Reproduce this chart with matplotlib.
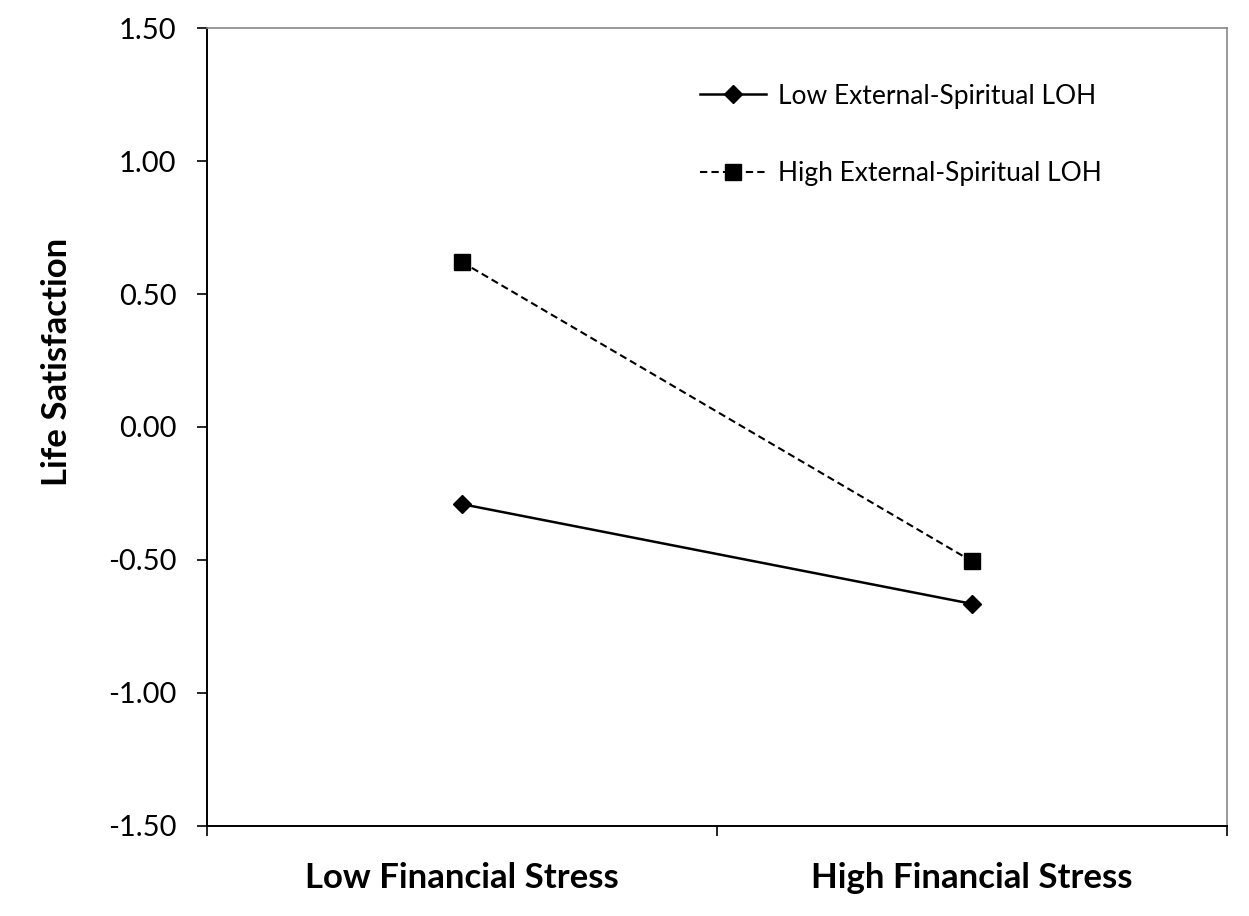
import matplotlib
matplotlib.use("Agg")
import matplotlib.pyplot as plt

plt.rcParams['font.family'] = ['Lato', 'DejaVu Sans']

categories = ["Low Financial Stress", "High Financial Stress"]
low_es = [-0.29, -0.665]
high_es = [0.62, -0.505]
yticks = [-1.5, -1.0, -0.5, 0.0, 0.5, 1.0, 1.5]

fig = plt.figure(figsize=(12.49, 9.16), dpi=100)
ax = fig.add_axes([0.1657, 0.0983, 0.8167, 0.8711])

xpos = [0.5, 1.5]
ax.plot(xpos, low_es, color="black", lw=1.8, marker="D", ms=9,
        label="Low External-Spiritual LOH")
ax.plot(xpos, high_es, color="black", lw=1.5, ls=(0, (3.5, 2)), marker="s", ms=11,
        label="High External-Spiritual LOH")

ax.set_xlim(0, 2)
ax.set_ylim(-1.5, 1.5)
ax.set_yticks(yticks)
ax.set_yticklabels(["%.2f" % v for v in yticks], fontsize=21)
ax.set_xticks([0, 1, 2])
ax.set_xticklabels([])
ax.set_xticks(xpos, minor=True)
ax.set_xticklabels(categories, minor=True, fontsize=25, fontweight="bold")
ax.tick_params(axis="x", which="minor", length=0, pad=26)
ax.tick_params(axis="x", which="major", length=7, width=1.2, direction="out")
ax.tick_params(axis="y", length=7, width=1.2, pad=15)
ax.set_ylabel("Life Satisfaction", fontsize=25, fontweight="bold", va="center")
ax.yaxis.set_label_coords(-0.147, 0.581)

for s in ["top", "right"]:
    ax.spines[s].set_color("#888888")
    ax.spines[s].set_linewidth(1.2)
for s in ["left", "bottom"]:
    ax.spines[s].set_linewidth(1.4)

leg = ax.legend(loc="upper right", bbox_to_anchor=(0.9, 0.96), frameon=False,
                fontsize=19, handlelength=2.5, labelspacing=2.0, handletextpad=0.45)

fig.savefig("out.png", dpi=100)
